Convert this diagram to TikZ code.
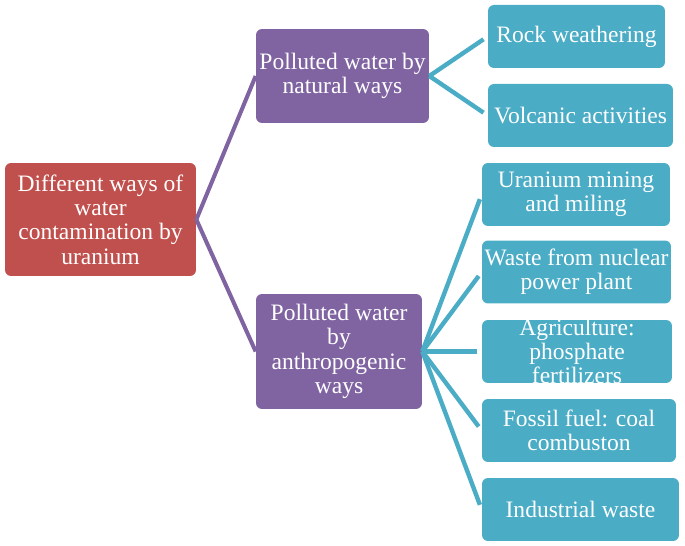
\documentclass[tikz,border=0pt]{standalone}
\usepackage{fontspec}
\setmainfont{Liberation Serif}
\definecolor{rootred}{HTML}{C0504D}
\definecolor{midpurple}{HTML}{8064A2}
\definecolor{leafteal}{HTML}{4BACC6}
\newcommand{\branch}[3]{\draw[#1] (#2.east) -- (#3.west)}

\begin{document}
\begin{tikzpicture}[x=0.02cm,y=-0.02cm,
	box/.style={rounded corners=0.12cm, inner sep=0pt, text=white, align=center,
		font=\fontsize{13.4}{13.9}\selectfont},
	leaf/.style={box, fill=leafteal, minimum height=1.26cm},
	purplink/.style={line width=2.3pt, midpurple},
	teallink/.style={line width=2.5pt, leafteal, shorten >=0.1cm}]
	\useasboundingbox (0,0) rectangle (685,546);
	% root and the two ways
	\node[box, fill=rootred, minimum width=3.82cm, minimum height=2.26cm] (root) at (100.5,219.5)
		{Different ways of\\water\\contamination by\\uranium};
	\node[box, fill=midpurple, minimum width=3.46cm, minimum height=1.88cm] (nat) at (342.5,76)
		{Polluted water by\\natural ways};
	\node[box, fill=midpurple, minimum width=3.32cm, minimum height=2.30cm] (anth) at (339,351.5)
		{Polluted water\\by\\anthropogenic\\ways};
	% leaves
	\node[leaf, minimum width=3.54cm] (rock) at (576.5,36.5) {Rock weathering};
	\node[leaf, minimum width=3.70cm] (volc) at (580.5,115.5) {Volcanic activities};
	\node[leaf, minimum width=3.76cm] (mine) at (576,194.5) {Uranium mining\\and miling};
	\node[leaf, minimum width=3.78cm] (nucl) at (576.5,272) {Waste from nuclear\\power plant};
	\node[leaf, minimum width=3.80cm] (agri) at (577,351.5) {};
	\node[box] (agritxt) at (agri.center) {Agriculture:\\phosphate\\fertilizers};
	\node[leaf, minimum width=3.88cm] (foss) at (579,430.5) {Fossil fuel: coal\\combuston};
	\node[leaf, minimum width=3.94cm] (indu) at (580.5,509.5) {Industrial waste};
	% links
	\branch{purplink}{root}{nat};
	\branch{purplink}{root}{anth};
	\branch{teallink}{nat}{rock};
	\branch{teallink}{nat}{volc};
	\branch{teallink}{anth}{mine};
	\branch{teallink}{anth}{nucl};
	\branch{teallink}{anth}{agri};
	\branch{teallink}{anth}{foss};
	\branch{teallink}{anth}{indu};
\end{tikzpicture}
\end{document}
